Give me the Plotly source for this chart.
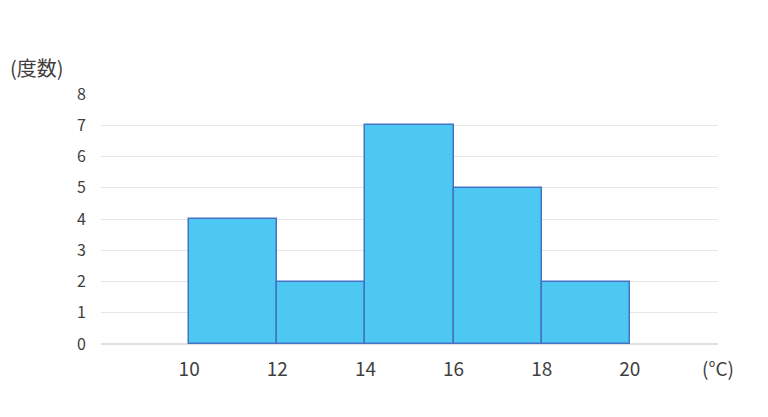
import plotly.graph_objects as go

bin_starts = [10, 12, 14, 16, 18]
bin_width = 2
counts = [4, 2, 7, 5, 2]
x_ticks = [10, 12, 14, 16, 18, 20, 22]
x_tick_labels = ["10", "12", "14", "16", "18", "20", "(°C)"]
y_ticks = [0, 1, 2, 3, 4, 5, 6, 7, 8]

centers = [s + bin_width / 2 for s in bin_starts]

fig = go.Figure(go.Bar(
    x=centers, y=counts, width=[bin_width] * len(counts),
    marker=dict(color="rgb(76,200,243)", line=dict(color="rgb(68,114,196)", width=1.5)),
))

font = "Noto Sans CJK JP, Noto Sans, sans-serif"
fig.update_layout(
    width=768, height=417,
    margin=dict(l=101, r=50, t=94, b=73),
    plot_bgcolor="white", paper_bgcolor="white",
    showlegend=False,
    font=dict(family=font, color="#404040"),
    xaxis=dict(range=[8, 22], tickvals=x_ticks, ticktext=x_tick_labels,
               showgrid=False, zeroline=False, showline=False,
               tickfont=dict(size=19, color="#404040"), ticks="outside",
               ticklen=8, tickcolor="white"),
    yaxis=dict(range=[0, 8], tickvals=y_ticks, showgrid=True, gridcolor="#e6e6e6",
               zeroline=True, zerolinecolor="#e0e0e0", showline=False,
               tickfont=dict(size=16, color="#404040"), ticks="outside",
               ticklen=11, tickcolor="white"),
    annotations=[dict(text="(度数)", xref="paper", yref="paper", x=-0.15, y=1.04,
                      xanchor="left", yanchor="bottom", showarrow=False,
                      font=dict(size=20, color="#404040", family=font))],
    bargap=0,
)

fig.write_html("out.html")
